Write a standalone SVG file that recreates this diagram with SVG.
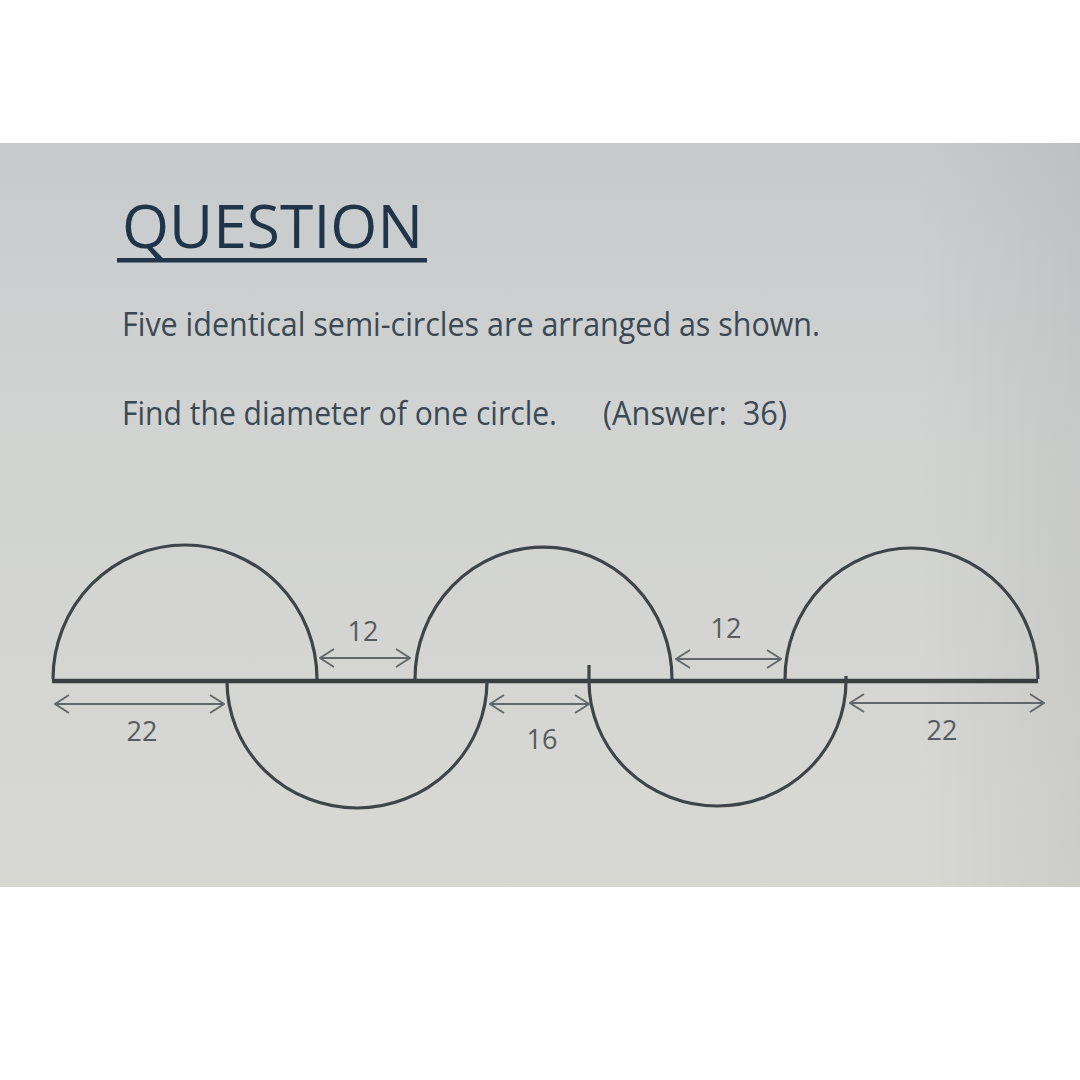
<svg xmlns="http://www.w3.org/2000/svg" width="1080" height="1080" viewBox="0 0 1080 1080">
<defs>
<linearGradient id="bg" x1="0" y1="0" x2="0" y2="1">
<stop offset="0" stop-color="#c7cacc"/>
<stop offset="0.35" stop-color="#d1d3d2"/>
<stop offset="1" stop-color="#d8d8d3"/>
</linearGradient>
<linearGradient id="side" x1="0" y1="0" x2="1" y2="0">
<stop offset="0.85" stop-color="#000" stop-opacity="0"/>
<stop offset="1" stop-color="#000" stop-opacity="0.05"/>
</linearGradient>
<marker id="ah" viewBox="0 0 16 20" refX="15" refY="10" markerWidth="16" markerHeight="20" markerUnits="userSpaceOnUse" orient="auto-start-reverse">
<path d="M1,1 L15,10 L1,19" fill="none" stroke="#62676a" stroke-width="1.8"/>
</marker>
<style>
.title{font-family:"Open Sans","Noto Sans",sans-serif;font-size:60px;fill:#203549}
.body{font-family:"Open Sans","Noto Sans",sans-serif;font-size:33px;fill:#3b4955}
.dim{font-family:"Open Sans","Noto Sans",sans-serif;font-size:27px;fill:#565b5f}
.shape{fill:none;stroke:#3e4447;stroke-width:3.2}
.base{stroke:#3b3e40;stroke-width:4.5}
.arr{stroke:#62676a;stroke-width:2;marker-start:url(#ah);marker-end:url(#ah)}
</style>
</defs>
<rect width="1080" height="1080" fill="#ffffff"/>
<rect x="0" y="143" width="1080" height="744" fill="url(#bg)"/>
<rect x="0" y="143" width="1080" height="744" fill="url(#side)"/>

<g id="title">
<text class="title" x="122" y="248" textLength="301" lengthAdjust="spacingAndGlyphs">QUESTION</text>
<rect x="117" y="258" width="310" height="4.5" fill="#203549"/>
</g>
<g id="text1"><text class="body" x="122" y="336" textLength="698" lengthAdjust="spacingAndGlyphs">Five identical semi-circles are arranged as shown.</text></g>
<g id="text2"><text class="body" x="122" y="425" textLength="435" lengthAdjust="spacingAndGlyphs">Find the diameter of one circle.</text>
<text class="body" x="603" y="425" textLength="184" lengthAdjust="spacingAndGlyphs">(Answer:&#160; 36)</text></g>

<g id="shapes">
<line class="base" x1="52" y1="681" x2="1038" y2="681"/>
<g id="semi-up-1"><path class="shape" d="M53,679 A132,134 0 0 1 317,679"/></g>
<g id="semi-up-2"><path class="shape" d="M415,679 A128.5,132 0 0 1 672,679"/></g>
<g id="semi-up-3"><path class="shape" d="M785,679 A126.5,131 0 0 1 1038,679"/></g>
<g id="semi-down-1"><path class="shape" d="M227,681 A130,127 0 0 0 487,681"/></g>
<g id="semi-down-2"><path class="shape" d="M589,665 L589,681 A128.5,125 0 0 0 846,681 L846,676"/></g>
</g>

<g id="connectors">
<line class="arr" x1="55" y1="704" x2="224" y2="704"/>
<line class="arr" x1="320" y1="658" x2="410" y2="658"/>
<line class="arr" x1="490" y1="704" x2="589" y2="704"/>
<line class="arr" x1="676" y1="659" x2="781" y2="659"/>
<line class="arr" x1="850" y1="703" x2="1044" y2="703"/>
</g>

<g id="labels">
<text class="dim" x="142" y="741" text-anchor="middle">22</text>
<text class="dim" x="363" y="641" text-anchor="middle">12</text>
<text class="dim" x="542" y="749" text-anchor="middle">16</text>
<text class="dim" x="726" y="638" text-anchor="middle">12</text>
<text class="dim" x="942" y="740" text-anchor="middle">22</text>
</g>
</svg>
